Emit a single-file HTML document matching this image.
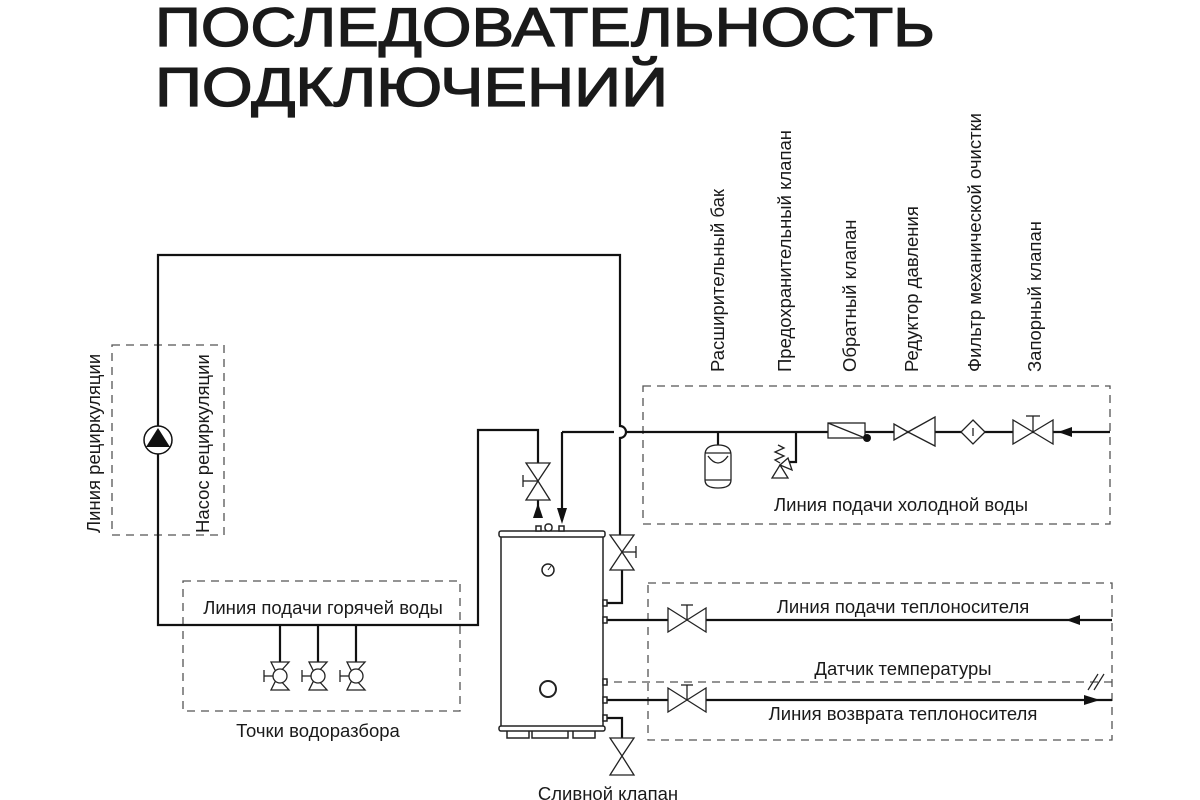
<!DOCTYPE html>
<html><head><meta charset="utf-8"><style>
html,body{margin:0;padding:0;background:#fff;}
svg{display:block;font-family:"Liberation Sans","DejaVu Sans",sans-serif;}
</style></head><body>
<svg width="1200" height="800" viewBox="0 0 1200 800" xmlns="http://www.w3.org/2000/svg">
<rect width="1200" height="800" fill="#fff"/>
<g fill="#1a1a1a" stroke="#1a1a1a" stroke-width="1.3" font-size="55">
<text x="155" y="46" textLength="780" lengthAdjust="spacingAndGlyphs">ПОСЛЕДОВАТЕЛЬНОСТЬ</text>
<text x="155" y="106" textLength="513" lengthAdjust="spacingAndGlyphs">ПОДКЛЮЧЕНИЙ</text>
</g>
<!-- dashed boxes -->
<g fill="none" stroke="#555" stroke-width="1.3" stroke-dasharray="8,6">
<rect x="112" y="345" width="112" height="190"/>
<rect x="643" y="386" width="467" height="138"/>
<rect x="183" y="581" width="277" height="130"/>
<rect x="648" y="583" width="464" height="157"/>
<line x1="600" y1="682" x2="1112" y2="682"/>
</g>
<!-- pipes -->
<g fill="none" stroke="#111" stroke-width="2.2">
<path d="M158 426 V255 H620 V426 a6 6 0 0 1 0 12 V535"/>
<path d="M158 454 V625 H478 V430 H538 V463"/>
<path d="M538 500 V515"/>
<path d="M562 432 H614 M626 432 H1110"/>
<path d="M562 432 V520"/>
<path d="M622 570 V603 H600"/>
<path d="M600 620 H668 M706 620 H1112"/>
<path d="M600 700 H668 M706 700 H1112"/>
<path d="M600 718 H622 V738"/>
<path d="M280 625 V662 M318 625 V662 M356 625 V662"/>
<path d="M718 432 V445 M796 432 V462 H788"/>
</g>
<!-- arrows -->
<g fill="#111">
<polygon points="538,503 533,518 543,518"/>
<polygon points="562,524 557,508 567,508"/>
<polygon points="1058,432 1072,427 1072,437"/>
<polygon points="1066,620 1080,615 1080,625"/>
<polygon points="1100,700 1084,695 1084,705"/>
</g>
<!-- pump -->
<circle cx="158" cy="440" r="14" fill="#fff" stroke="#111" stroke-width="1.5"/>
<polygon points="158,428 146,447 170,447" fill="#111"/>
<!-- valves -->
<g fill="#fff" stroke="#222" stroke-width="1.3">
<polygon points="526,463 550,463 538,481 526,500 550,500 538,481"/>
<line x1="538" y1="481" x2="523" y2="481"/><line x1="523" y1="475" x2="523" y2="487"/>
<polygon points="610,535 634,535 622,552 610,570 634,570 622,552"/>
<line x1="622" y1="552" x2="636" y2="552"/><line x1="636" y1="546" x2="636" y2="558"/>
<polygon points="610,738 634,738 622,756 610,775 634,775 622,756"/>
<polygon points="668,608 668,632 687,620 706,608 706,632 687,620"/>
<line x1="687" y1="620" x2="687" y2="605"/><line x1="681" y1="605" x2="693" y2="605"/>
<polygon points="668,688 668,712 687,700 706,688 706,712 687,700"/>
<line x1="687" y1="700" x2="687" y2="685"/><line x1="681" y1="685" x2="693" y2="685"/>
<polygon points="1013,420 1013,444 1033,432 1053,420 1053,444 1033,432"/>
<line x1="1033" y1="432" x2="1033" y2="416"/><line x1="1026" y1="416" x2="1040" y2="416"/>
<polygon points="894,424 894,440 908,432 935,417 935,446 908,432"/>
<polygon points="973,420 985,432 973,444 961,432"/>
<line x1="973" y1="428" x2="973" y2="436"/>
<rect x="828" y="423" width="37" height="15"/>
<line x1="828" y1="423" x2="865" y2="438"/>
<path d="M705 455 Q705 445 718 445 Q731 445 731 455 V480 Q731 488 718 488 Q705 488 705 480 Z"/>
<path d="M705 453 H731 M708 456 Q718 470 728 456 M705 480 H731"/>
<polygon points="772,478 788,478 780,465"/>
<polygon points="780,465 788,458 792,470"/>
<path d="M780 463 L775 460 L784 456 L775 452 L784 448 L778 445" fill="none"/>
<g>
<polygon points="271,662 289,662 280,672 271,690 289,690 280,680"/>
<circle cx="280" cy="676" r="7"/><line x1="273" y1="676" x2="264" y2="676"/><line x1="264" y1="670" x2="264" y2="682"/>
<polygon points="309,662 327,662 318,672 309,690 327,690 318,680"/>
<circle cx="318" cy="676" r="7"/><line x1="311" y1="676" x2="302" y2="676"/><line x1="302" y1="670" x2="302" y2="682"/>
<polygon points="347,662 365,662 356,672 347,690 365,690 356,680"/>
<circle cx="356" cy="676" r="7"/><line x1="349" y1="676" x2="340" y2="676"/><line x1="340" y1="670" x2="340" y2="682"/>
</g>
</g>
<circle cx="867" cy="438" r="4" fill="#111"/>
<!-- tank -->
<g stroke="#222" stroke-width="1.5" fill="#fff">
<rect x="507" y="729" width="22" height="9"/><rect x="532" y="729" width="36" height="9"/><rect x="573" y="729" width="22" height="9"/>
<rect x="501" y="534" width="102" height="196"/>
<rect x="499" y="531" width="106" height="6" rx="2"/>
<rect x="499" y="726" width="106" height="5" rx="2"/>
<circle cx="548" cy="570" r="6"/>
<circle cx="548" cy="689" r="8" stroke-width="2"/>
<rect x="536" y="526" width="5" height="5"/><rect x="545" y="524" width="7" height="7" rx="3"/><rect x="559" y="526" width="5" height="5"/>
<rect x="603" y="600" width="4" height="6"/><rect x="603" y="617" width="4" height="6"/><rect x="603" y="679" width="4" height="6"/><rect x="603" y="697" width="4" height="6"/><rect x="603" y="715" width="4" height="6"/>
</g>
<line x1="548" y1="570" x2="551" y2="566" stroke="#222" stroke-width="1"/>
<g stroke="#222" stroke-width="1.2"><line x1="1088" y1="690" x2="1098" y2="674"/><line x1="1094" y1="690" x2="1104" y2="674"/></g>
<!-- labels -->
<g fill="#1a1a1a" font-size="18.5">
<text x="901" y="511" text-anchor="middle">Линия подачи холодной воды</text>
<text x="323" y="614" text-anchor="middle">Линия подачи горячей воды</text>
<text x="318" y="737" text-anchor="middle">Точки водоразбора</text>
<text x="903" y="613" text-anchor="middle">Линия подачи теплоносителя</text>
<text x="903" y="675" text-anchor="middle">Датчик температуры</text>
<text x="903" y="720" text-anchor="middle">Линия возврата теплоносителя</text>
<text x="608" y="800" text-anchor="middle">Сливной клапан</text>
<text transform="translate(724,372) rotate(-90)">Расширительный бак</text>
<text transform="translate(791,372) rotate(-90)">Предохранительный клапан</text>
<text transform="translate(856,372) rotate(-90)">Обратный клапан</text>
<text transform="translate(918,372) rotate(-90)">Редуктор давления</text>
<text transform="translate(981,372) rotate(-90)">Фильтр механической очистки</text>
<text transform="translate(1041,372) rotate(-90)">Запорный клапан</text>
<text transform="translate(100,533) rotate(-90)">Линия рециркуляции</text>
<text transform="translate(209,533) rotate(-90)">Насос рециркуляции</text>
</g>
</svg>
</body></html>
